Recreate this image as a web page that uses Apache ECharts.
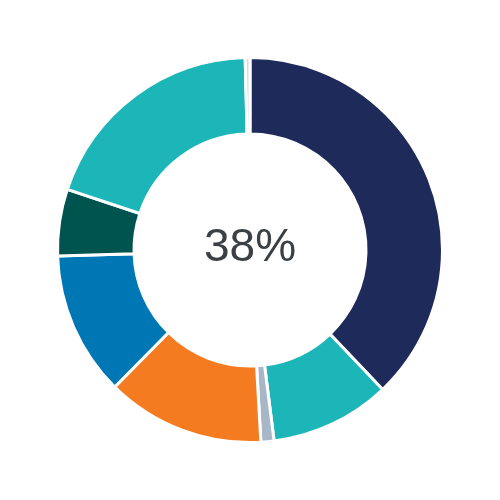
<!DOCTYPE html>
<html>
<head>
<meta charset="utf-8">
<script src="https://cdn.jsdelivr.net/npm/echarts@6/dist/echarts.min.js"></script>
<style>
  html, body { margin: 0; padding: 0; background: #fff; }
  #main { width: 500px; height: 500px; }
</style>
</head>
<body>
<div id="main"></div>
<script>
(function () {

  // slice values, clockwise from 12 o'clock
  var names = ['A', 'B', 'C', 'D', 'E', 'F', 'G', 'H'];
  var values = [37.9, 10.1, 1.1, 13.3, 12.1, 5.6, 19.5, 0.4];
  var colors = ['#1e2b5a', '#1cb5b8', '#a8b7c7', '#f47b20', '#0077b5', '#00544f', '#1cb5b8', '#d5dce4'];
  var centerLabel = '38%';

  var myChart = echarts.init(document.getElementById('main'));

  var data = values.map(function (v, i) {
    return { name: names[i], value: v, itemStyle: { color: colors[i] } };
  });

  var option = {
    animation: false,
    title: {
      text: centerLabel,
      left: 'center',
      top: 220,
      textStyle: {
        fontFamily: 'Liberation Sans',
        fontSize: 46,
        fontWeight: 'normal',
        color: '#3b4045'
      }
    },
    series: {
      type: 'pie',
      center: ['50%', '50%'],
      radius: ['46.4%', '77%'],
      startAngle: 90,
      clockwise: true,
      avoidLabelOverlap: false,
      label: { show: false },
      labelLine: { show: false },
      itemStyle: {
        borderColor: '#ffffff',
        borderWidth: 3
      },
      emphasis: { disabled: true },
      data: data
    }
  };

  myChart.setOption(option);

})()
</script>
</body>
</html>
